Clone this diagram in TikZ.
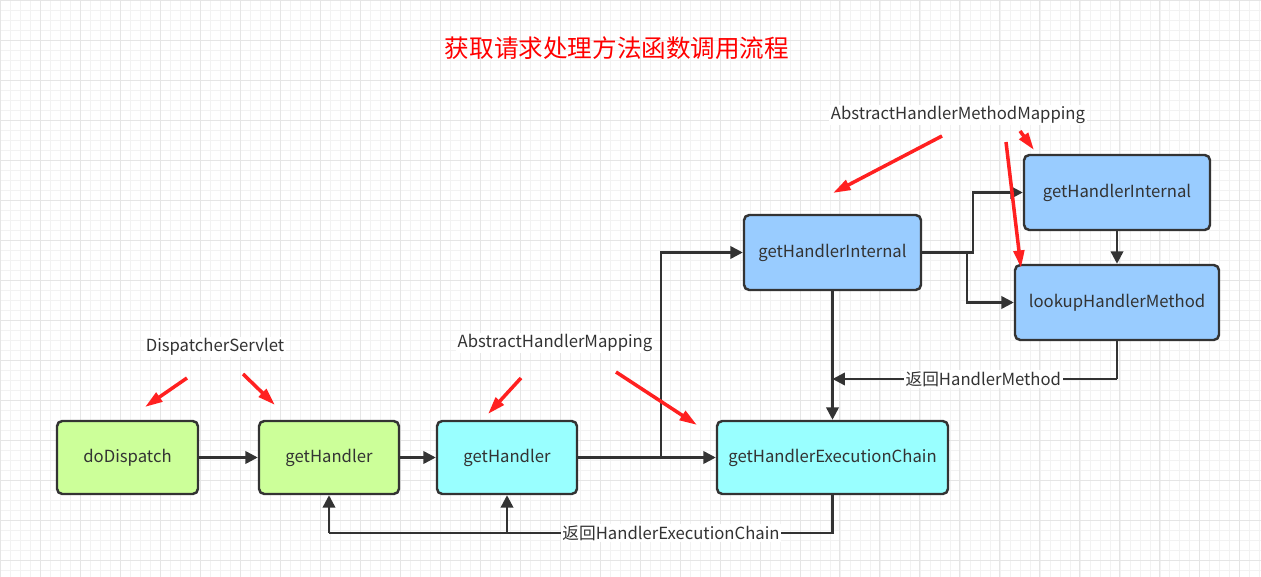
\documentclass[tikz,border=0pt]{standalone}
\usepackage{fontspec}
\setmainfont{Noto Sans CJK SC}
\usetikzlibrary{arrows.meta}
\definecolor{boxgreen}{HTML}{CCFF99}
\definecolor{boxcyan}{HTML}{99FFFF}
\definecolor{boxblue}{HTML}{99CCFF}
\definecolor{linegray}{HTML}{333333}
\definecolor{hintred}{HTML}{FF2020}
\tikzset{
  box/.style={draw=linegray, line width=1.4pt, rounded corners=3pt, align=center, font=\fontsize{9.5}{11}\selectfont, text=linegray},
  flow/.style={draw=linegray, line width=1.4pt, -{Triangle[length=7pt,width=7pt]}},
  line/.style={draw=linegray, line width=1.4pt},
  hint/.style={draw=hintred, line width=2pt, -{Triangle[length=10pt,width=6pt]}},
  note/.style={font=\fontsize{9.5}{11}\selectfont, text=linegray, fill=white, inner sep=1pt}
}
\begin{document}
\begin{tikzpicture}[x=0.02cm, y=-0.02cm]
    \useasboundingbox (0,0) rectangle (1261,577);
    % background grid
    \draw[gray!10, line width=0.3pt, step=0.2cm] (0,0) grid (1261,577);
    \draw[gray!20, line width=0.4pt, step=0.8cm] (0,0) grid (1261,577);
    % title
    \node[text=red, font=\fontsize{14}{16}\selectfont] (title) at (617,48) {获取请求处理方法函数调用流程};
    % boxes
    \node[box, fill=boxgreen, minimum width=141*0.02cm, minimum height=73*0.02cm] (dispatch) at (127.5,457.5) {doDispatch};
    \node[box, fill=boxgreen, minimum width=140*0.02cm, minimum height=73*0.02cm] (handler1) at (329,457.5) {getHandler};
    \node[box, fill=boxcyan, minimum width=140*0.02cm, minimum height=73*0.02cm] (handler2) at (507,457.5) {getHandler};
    \node[box, fill=boxcyan, minimum width=231*0.02cm, minimum height=73*0.02cm] (chain) at (832.5,457.5) {getHandlerExecutionChain};
    \node[box, fill=boxblue, minimum width=177*0.02cm, minimum height=75*0.02cm] (internal1) at (832.5,252.5) {getHandlerInternal};
    \node[box, fill=boxblue, minimum width=186*0.02cm, minimum height=75*0.02cm] (internal2) at (1117,192.5) {getHandlerInternal};
    \node[box, fill=boxblue, minimum width=204*0.02cm, minimum height=75*0.02cm] (lookup) at (1117,302.5) {lookupHandlerMethod};
    % class labels
    \node[note] (servlet) at (215,347) {DispatcherServlet};
    \node[note] (mapping) at (555,343) {AbstractHandlerMapping};
    \node[note] (methodmapping) at (958,115) {AbstractHandlerMethodMapping};
    % connectors
    \draw[flow] (dispatch) -- (handler1);
    \draw[flow] (handler1) -- (handler2);
    \draw[flow] (handler2.east) -- (chain.west);
    \coordinate (split1) at (661,457.5);
    \draw[flow] (split1) |- (internal1.west);
    \coordinate (split2) at (973,252.5);
    \coordinate (split3) at (967,252.5);
    \draw[flow] (internal1.east) -- (split2) |- (internal2.west);
    \draw[flow] (split3) |- (lookup.west);
    \draw[flow] (internal2) -- (lookup);
    \draw[flow] (internal1) -- (chain);
    \coordinate (back1) at (1117,379);
    \draw[line] (lookup.south) -- (back1);
    \draw[flow] (back1) -- (832.5,379) node[note, pos=0.47] (retmethod) {返回HandlerMethod};
    \coordinate (back2) at (832.5,533);
    \coordinate (back3) at (507,533);
    \draw[line] (chain.south) -- (back2) -- (329,533);
    \draw[flow] (329,533) -- (handler1.south);
    \draw[flow] (back3) -- (handler2.south);
    \node[note] (retchain) at (671,533) {返回HandlerExecutionChain};
    % red hints
    \draw[hint] (187,378) -- (145,407);
    \draw[hint] (243,374) -- (275,405);
    \draw[hint] (521,378) -- (488,414);
    \draw[hint] (616,372) -- (697,425);
    \draw[hint] (942,136) -- (833,193);
    \draw[hint] (1020,131) -- (1034,150);
    \draw[hint] (1006,142) -- (1021,268);
\end{tikzpicture}
\end{document}
